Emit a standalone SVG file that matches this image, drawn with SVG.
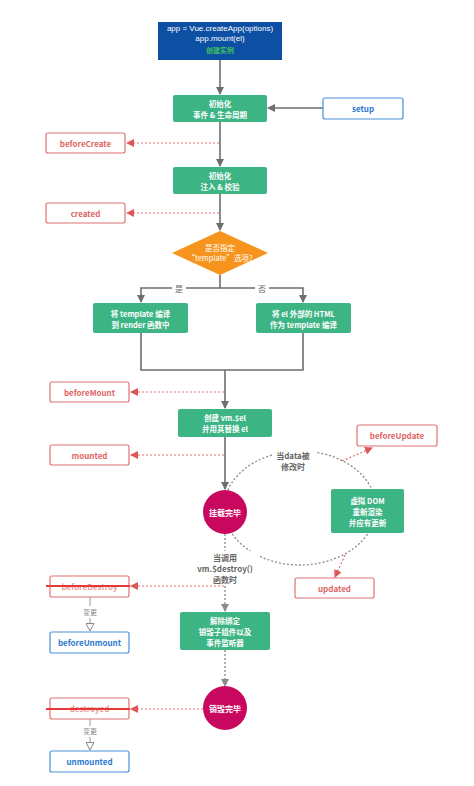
<svg xmlns="http://www.w3.org/2000/svg" width="474" height="786" viewBox="0 0 474 786">
<style>
text{font-family:"Noto Sans CJK SC","Liberation Sans",sans-serif;font-weight:bold;text-anchor:middle;dominant-baseline:central}
.lat{font-family:"Liberation Sans","Noto Sans CJK SC",sans-serif}
.g rect{fill:#3db484}
.g text{fill:#fff;font-size:7.5px}
.hr rect{fill:#fff;stroke:#e07272;stroke-width:1.2}
.hr text{fill:#e06565;font-size:8px}
.hb rect{fill:#fff;stroke:#4a90d9;stroke-width:1.2}
.hb text{fill:#2a78cf;font-size:8px}
.pk circle{fill:#c8085e}
.pk text{fill:#fff;font-size:8px}
.solid{stroke:#6e6e6e;stroke-width:1.6;fill:none}
.rdot{stroke:#e07070;stroke-width:1.2;stroke-dasharray:2 2;fill:none}
.gdot{stroke:#8a8a8a;stroke-width:1.3;stroke-dasharray:2 2;fill:none}
.lbl{fill:#666;font-size:8px}
.thin{stroke:#999;stroke-width:1;fill:none}
</style>
<defs>
<marker id="ag" markerWidth="8" markerHeight="8" refX="7" refY="4" orient="auto" markerUnits="userSpaceOnUse"><path d="M0,0 L8,4 L0,8 z" fill="#6e6e6e"/></marker>
<marker id="ar" markerWidth="8" markerHeight="8" refX="7" refY="4" orient="auto" markerUnits="userSpaceOnUse"><path d="M0,0 L8,4 L0,8 z" fill="#e05555"/></marker>
<marker id="agd" markerWidth="8" markerHeight="8" refX="7" refY="4" orient="auto" markerUnits="userSpaceOnUse"><path d="M0,0 L8,4 L0,8 z" fill="#8a8a8a"/></marker>
<marker id="ah" markerWidth="9" markerHeight="9" refX="8" refY="4.5" orient="auto" markerUnits="userSpaceOnUse"><path d="M0.5,0.5 L8,4.5 L0.5,8.5 z" fill="#fff" stroke="#888" stroke-width="1"/></marker>
</defs>
<rect width="474" height="786" fill="#fff"/>

<g id="connectors">
<line class="solid" x1="220" y1="60" x2="220" y2="94" marker-end="url(#ag)"/>
<line class="solid" x1="323" y1="108" x2="268" y2="108" marker-end="url(#ag)"/>
<line class="solid" x1="220" y1="122" x2="220" y2="166" marker-end="url(#ag)"/>
<line class="rdot" x1="219" y1="143" x2="127" y2="143" marker-end="url(#ar)"/>
<line class="solid" x1="220" y1="194" x2="220" y2="230" marker-end="url(#ag)"/>
<line class="rdot" x1="219" y1="213" x2="127" y2="213" marker-end="url(#ar)"/>
<polyline class="solid" points="220,275 220,288 141,288 141,302" marker-end="url(#ag)"/>
<polyline class="solid" points="220,288 303,288 303,302" marker-end="url(#ag)"/>
<rect x="172" y="283" width="14" height="10" fill="#fff"/>
<text class="lbl" x="179" y="288" style="font-weight:normal">是</text>
<rect x="255" y="283" width="14" height="10" fill="#fff"/>
<text class="lbl" x="262" y="288" style="font-weight:normal">否</text>
<polyline class="solid" points="141,333 141,370 303,370 303,333"/>
<line class="solid" x1="225" y1="370" x2="225" y2="408" marker-end="url(#ag)"/>
<line class="rdot" x1="224" y1="392" x2="131" y2="392" marker-end="url(#ar)"/>
<line class="solid" x1="225" y1="437" x2="225" y2="489" marker-end="url(#ag)"/>
<line class="rdot" x1="224" y1="455" x2="131" y2="455" marker-end="url(#ar)"/>
<ellipse class="gdot" cx="300" cy="508" rx="76" ry="57"/>
<rect x="272" y="448" width="44" height="24" fill="#fff"/>
<text class="lbl" x="293" y="455">当data被</text>
<text class="lbl" x="293" y="466">修改时</text>
<line class="rdot" x1="342" y1="461" x2="372" y2="448" marker-end="url(#ar)"/>
<line class="rdot" x1="345" y1="555" x2="335" y2="577" marker-end="url(#ar)"/>
<line class="gdot" x1="225" y1="534" x2="225" y2="611" marker-end="url(#agd)"/>
<rect x="190" y="551" width="70" height="33" fill="#fff"/>
<text class="lbl" x="225" y="557">当调用</text>
<text class="lbl" x="225" y="568">vm.$destroy()</text>
<text class="lbl" x="225" y="579">函数时</text>
<line class="rdot" x1="224" y1="586" x2="131" y2="586" marker-end="url(#ar)"/>
<line class="thin" x1="90" y1="597" x2="90" y2="606"/>
<text class="lbl" x="90" y="612" style="font-weight:normal;font-size:7px;fill:#888">变更</text>
<line class="thin" x1="90" y1="618" x2="90" y2="631" marker-end="url(#ah)"/>
<line class="gdot" x1="225" y1="650" x2="225" y2="686" marker-end="url(#agd)"/>
<line class="rdot" x1="203" y1="709" x2="131" y2="709" marker-end="url(#ar)"/>
<line class="thin" x1="90" y1="719" x2="90" y2="726"/>
<text class="lbl" x="90" y="731" style="font-weight:normal;font-size:7px;fill:#888">变更</text>
<line class="thin" x1="90" y1="737" x2="90" y2="750" marker-end="url(#ah)"/>
</g>

<g id="create-app">
<rect x="158" y="22" width="124" height="38" fill="#0d4fa3"/>
<text class="lat" x="220" y="28.5" fill="#fff" style="font-size:8px;font-weight:normal">app = Vue.createApp(options)</text>
<text class="lat" x="220" y="38" fill="#fff" style="font-size:8px;font-weight:normal">app.mount(el)</text>
<text x="220" y="50" fill="#3fc060" style="font-size:7px">创建实例</text>
</g>
<g id="init-events" class="g"><rect x="173" y="95" width="94" height="27" rx="2"/><text x="220" y="103">初始化</text><text x="220" y="114">事件 &amp; 生命周期</text></g>
<g id="setup" class="hb"><rect x="323" y="98" width="80" height="21" rx="2"/><text x="363" y="108.5">setup</text></g>
<g id="beforeCreate" class="hr"><rect x="46" y="133" width="79" height="20" rx="2"/><text x="85.5" y="143">beforeCreate</text></g>
<g id="init-inject" class="g"><rect x="173" y="167" width="94" height="27" rx="2"/><text x="220" y="175">初始化</text><text x="220" y="186">注入 &amp; 校验</text></g>
<g id="created" class="hr"><rect x="46" y="203" width="79" height="20" rx="2"/><text x="85.5" y="213">created</text></g>
<g id="template-decision"><polygon points="220,231 268,253 220,275 172,253" fill="#f7941d"/><text x="220" y="247" fill="#fff" style="font-size:7.5px;font-weight:normal">是否指定</text><text x="220" y="257.5" fill="#fff" style="font-size:7.5px;font-weight:normal">“template”选项?</text></g>
<g id="compile-template" class="g"><rect x="93" y="303" width="95" height="30" rx="2"/><text x="140.5" y="313">将 template 编译</text><text x="140.5" y="324">到 render 函数中</text></g>
<g id="compile-el" class="g"><rect x="256" y="303" width="95" height="30" rx="2"/><text x="303.5" y="313">将 el 外部的 HTML</text><text x="303.5" y="324">作为 template 编译</text></g>
<g id="beforeMount" class="hr"><rect x="50" y="382" width="79" height="20" rx="2"/><text x="89.5" y="392">beforeMount</text></g>
<g id="create-el" class="g"><rect x="178" y="409" width="94" height="28" rx="2"/><text x="225" y="417">创建 vm.$el</text><text x="225" y="428">并用其替换 el</text></g>
<g id="mounted" class="hr"><rect x="50" y="445" width="79" height="20" rx="2"/><text x="89.5" y="455">mounted</text></g>
<g id="beforeUpdate" class="hr"><rect x="357" y="425" width="80" height="21" rx="2"/><text x="397" y="435.5">beforeUpdate</text></g>
<g id="mounted-done" class="pk"><circle cx="225" cy="512" r="22"/><text x="225" y="512">挂载完毕</text></g>
<g id="rerender" class="g"><rect x="331" y="489" width="73" height="44" rx="2"/><text x="367.5" y="500">虚拟 DOM</text><text x="367.5" y="511">重新渲染</text><text x="367.5" y="522">并应有更新</text></g>
<g id="updated" class="hr"><rect x="295" y="578" width="79" height="20" rx="2"/><text x="334.5" y="588">updated</text></g>
<g id="beforeDestroy" class="hr"><rect x="50" y="576" width="79" height="21" rx="2"/><text x="89.5" y="586.5" style="fill:#ea9a9a">beforeDestroy</text></g>
<line x1="46" y1="586" x2="130" y2="586" stroke="#e53935" stroke-width="2"/>
<g id="beforeUnmount" class="hb"><rect x="50" y="632" width="79" height="21" rx="2"/><text x="89.5" y="642.5">beforeUnmount</text></g>
<g id="teardown" class="g"><rect x="180" y="612" width="90" height="38" rx="2"/><text x="225" y="620">解除绑定</text><text x="225" y="631">销毁子组件以及</text><text x="225" y="642">事件监听器</text></g>
<g id="destroyed-done" class="pk"><circle cx="225" cy="708" r="22"/><text x="225" y="708">销毁完毕</text></g>
<g id="destroyed" class="hr"><rect x="50" y="698" width="79" height="21" rx="2"/><text x="89.5" y="708.5" style="fill:#ea9a9a">destroyed</text></g>
<line x1="46" y1="709" x2="130" y2="709" stroke="#e53935" stroke-width="2"/>
<g id="unmounted" class="hb"><rect x="50" y="751" width="79" height="21" rx="2"/><text x="89.5" y="761.5">unmounted</text></g>
</svg>
